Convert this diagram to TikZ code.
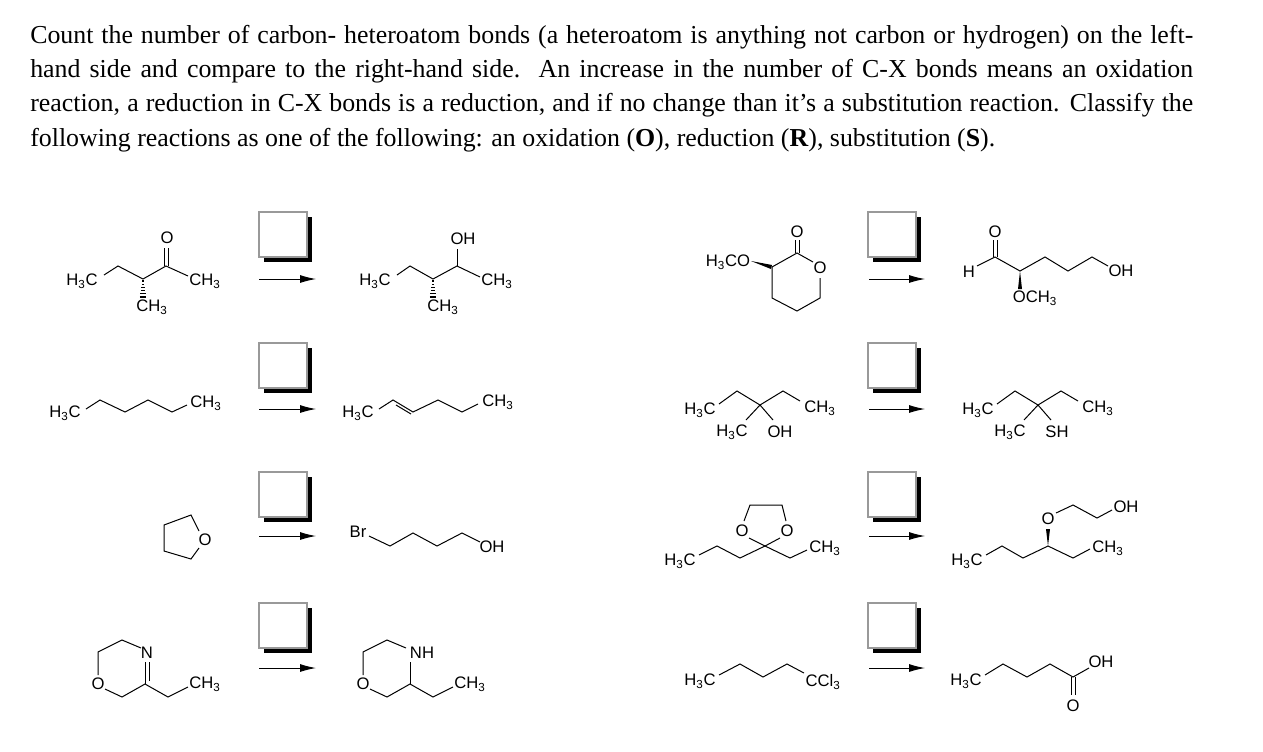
\documentclass[tikz,border=0pt]{standalone}
\usepackage{fontspec}
\setmainfont{Liberation Serif}
\newfontfamily\chemf{Liberation Sans}
\usetikzlibrary{arrows.meta}
\tikzset{
 lab/.style={font=\chemf\fontsize{12.5}{13}\selectfont, inner sep=0pt},
 bd/.style={line width=0.75pt},
 rx/.style={-{Latex[length=12pt,width=6pt]}, line width=0.7pt},
 ln/.style={anchor=west, inner sep=0pt, font=\fontsize{19.4}{21}\selectfont}
}
\newcommand{\ch}{CH\textsubscript{3}}
\newcommand{\hc}{H\textsubscript{3}C}
\newcommand{\ansbox}[2]{%
 \fill[black] (#1+5,#2+5) rectangle (#1+53,#2+50);
 \filldraw[draw=gray!80, fill=white, line width=0.8pt] (#1,#2) rectangle (#1+48,#2+45);}
\newcommand{\hashw}[3]{%
 \draw[line width=0.8pt] ({#1-0.6},#2)--({#1+0.6},#2)
   ({#1-1.1},{#2+(#3-#2)*0.2})--({#1+1.1},{#2+(#3-#2)*0.2})
   ({#1-1.6},{#2+(#3-#2)*0.4})--({#1+1.6},{#2+(#3-#2)*0.4})
   ({#1-2.1},{#2+(#3-#2)*0.6})--({#1+2.1},{#2+(#3-#2)*0.6})
   ({#1-2.6},{#2+(#3-#2)*0.8})--({#1+2.6},{#2+(#3-#2)*0.8})
   ({#1-3.1},#3)--({#1+3.1},#3);}
\begin{document}
\begin{tikzpicture}[x=0.75pt,y=-0.75pt]
\useasboundingbox (0,0) rectangle (1263,751);
\fill[white] (0,0) rectangle (1263,751);
% text
\node[ln] (t1) at (30,37) {\makebox[1163\dimexpr0.75pt][s]{Count the number of carbon- heteroatom bonds (a heteroatom is anything not carbon or hydrogen) on the left-}};
\node[ln] (t2) at (30,71) {\makebox[1163\dimexpr0.75pt][s]{hand side and compare to the right-hand side.\ \ An increase in the number of C-X bonds means an oxidation}};
\node[ln] (t3) at (30,105) {\makebox[1163\dimexpr0.75pt][s]{reaction, a reduction in C-X bonds is a reduction, and if no change than it’s a substitution reaction. Classify the}};
\node[ln] (t4) at (30,140) {following reactions as one of the following: an oxidation (\textbf{O}), reduction (\textbf{R}), substitution (\textbf{S}).};
% boxes and arrows
\foreach \y in {212,343,472,603}{\ansbox{259}{\y}\ansbox{868}{\y}}
\foreach \y/\n in {279/a,409/b,536/c,668/d}{
 \coordinate (la\n) at (259,\y); \coordinate (lb\n) at (316,\y);
 \coordinate (ra\n) at (869,\y); \coordinate (rb\n) at (925,\y);
 \draw[rx] (la\n) -- (lb\n); \draw[rx] (ra\n) -- (rb\n);}
% ---- L1 reactant
\node[lab] (a1) at (82,281) {\hc};
\node[lab] (a2) at (167,238) {O};
\node[lab] (a3) at (205,281) {\ch};
\node[lab] (a4) at (152,307) {\ch};
\draw[bd] (104,275)--(118,266)--(143,279)--(166,266)--(188,276);
\draw[bd] (164,266)--(164,248) (168.5,266)--(168.5,248);
\hashw{143}{281}{297}
% L1 product
\node[lab] (b1) at (375,281) {\hc};
\node[lab] (b2) at (463,239) {OH};
\node[lab] (b3) at (497,281) {\ch};
\node[lab] (b4) at (443,307) {\ch};
\draw[bd] (397,275)--(410,266)--(433,279)--(457,266)--(480,277);
\draw[bd] (457,266)--(457,249);
\hashw{433}{281}{297}
% ---- L2
\node[lab] (c1) at (65,413) {\hc};
\node[lab] (c2) at (206,403) {\ch};
\draw[bd] (86,409)--(100,400)--(125,412)--(148,400)--(172,412)--(187,405);
\node[lab] (d1) at (358,413) {\hc};
\node[lab] (d2) at (498,402) {\ch};
\draw[bd] (379,409)--(393,400)--(413,412)--(438,400)--(462,412)--(478,404);
\draw[bd] (396,405)--(411,414);
% ---- L3
\node[lab] (e1) at (205,540) {O};
\draw[bd] (199,531)--(191,515)--(164,525)--(164,551)--(191,559)--(199,548);
\node[lab] (f1) at (358,532) {Br};
\node[lab] (f2) at (492,547) {OH};
\draw[bd] (369,536)--(390,546)--(413,533)--(437,546)--(462,533)--(480,542);
% ---- L4
\node[lab] (g1) at (147,653) {N};
\node[lab] (g2) at (98,684) {O};
\node[lab] (g3) at (205,684) {\ch};
\draw[bd] (98,675)--(98,652)--(122,640)--(141,648);
\draw[bd] (105,689)--(122,697)--(145,684)--(168,697)--(188,687);
\draw[bd] (145,684)--(145,662) (149,681)--(149,662);
\node[lab] (h1) at (422,653) {NH};
\node[lab] (h2) at (363,684) {O};
\node[lab] (h3) at (470,684) {\ch};
\draw[bd] (363,675)--(363,652)--(387,640)--(406,648);
\draw[bd] (370,689)--(387,697)--(410,684)--(433,697)--(453,687);
\draw[bd] (410,684)--(410,662);
% ---- R1 reactant
\node[lab] (i1) at (728,262) {H\textsubscript{3}CO};
\node[lab] (i2) at (797,232) {O};
\node[lab] (i3) at (820,268) {O};
\fill (751,261)--(772,265)--(771,269)--cycle;
\draw[bd] (772,267)--(797,253)--(813,262);
\draw[bd] (795,253)--(795,240) (799.5,253)--(799.5,240);
\draw[bd] (820,278)--(820,298)--(797,311)--(772,298)--(772,267);
% R1 product
\node[lab] (j1) at (969,272) {H};
\node[lab] (j2) at (995,232) {O};
\node[lab] (j3) at (1035,298) {OCH\textsubscript{3}};
\node[lab] (j4) at (1121,271) {OH};
\draw[bd] (977,266)--(995,257)--(1020,271)--(1045,257)--(1068,271)--(1092,257)--(1108,266);
\draw[bd] (993,257)--(993,240) (997.5,257)--(997.5,240);
\fill (1018,289)--(1022,289)--(1020,271)--cycle;
% ---- R2
\node[lab] (k1) at (700,410) {\hc};
\node[lab] (k2) at (820,408) {\ch};
\node[lab] (k3) at (732,432) {\hc};
\node[lab] (k4) at (780,432) {OH};
\draw[bd] (719,404)--(737,391)--(760,405)--(783,391)--(800,401);
\draw[bd] (746,420)--(760,405)--(773,420);
\node[lab] (l1) at (978,410) {\hc};
\node[lab] (l2) at (1098,408) {\ch};
\node[lab] (l3) at (1010,432) {\hc};
\node[lab] (l4) at (1057,432) {SH};
\draw[bd] (997,404)--(1015,391)--(1038,405)--(1061,391)--(1078,401);
\draw[bd] (1024,420)--(1038,405)--(1051,420);
% ---- R3
\node[lab] (m1) at (680,561) {\hc};
\node[lab] (m2) at (825,548) {\ch};
\node[lab] (m3) at (742,531) {O};
\node[lab] (m4) at (787,531) {O};
\draw[bd] (699,555)--(717,546)--(740,558)--(765,546)--(790,558)--(807,550);
\draw[bd] (749,538)--(765,546)--(780,538);
\draw[bd] (744,521)--(750,505)--(782,505)--(786,521);
\node[lab] (n1) at (967,561) {\hc};
\node[lab] (n2) at (1108,548) {\ch};
\node[lab] (n3) at (1048,519) {O};
\node[lab] (n4) at (1126,507) {OH};
\draw[bd] (986,555)--(1002,546)--(1023,558)--(1048,546)--(1073,558)--(1090,549);
\fill (1046,529)--(1050,529)--(1048,546)--cycle;
\draw[bd] (1056,513)--(1073,505)--(1097,518)--(1112,510);
% ---- R4
\node[lab] (o1) at (700,681) {\hc};
\node[lab] (o2) at (823,682) {CCl\textsubscript{3}};
\draw[bd] (719,675)--(740,664)--(763,677)--(787,664)--(804,673);
\node[lab] (p1) at (966,681) {\hc};
\node[lab] (p2) at (1101,662) {OH};
\node[lab] (p3) at (1073,706) {O};
\draw[bd] (985,675)--(1003,664)--(1027,677)--(1050,664)--(1073,677)--(1089,668);
\draw[bd] (1071,677)--(1071,695) (1075.5,677)--(1075.5,695);
\end{tikzpicture}
\end{document}
